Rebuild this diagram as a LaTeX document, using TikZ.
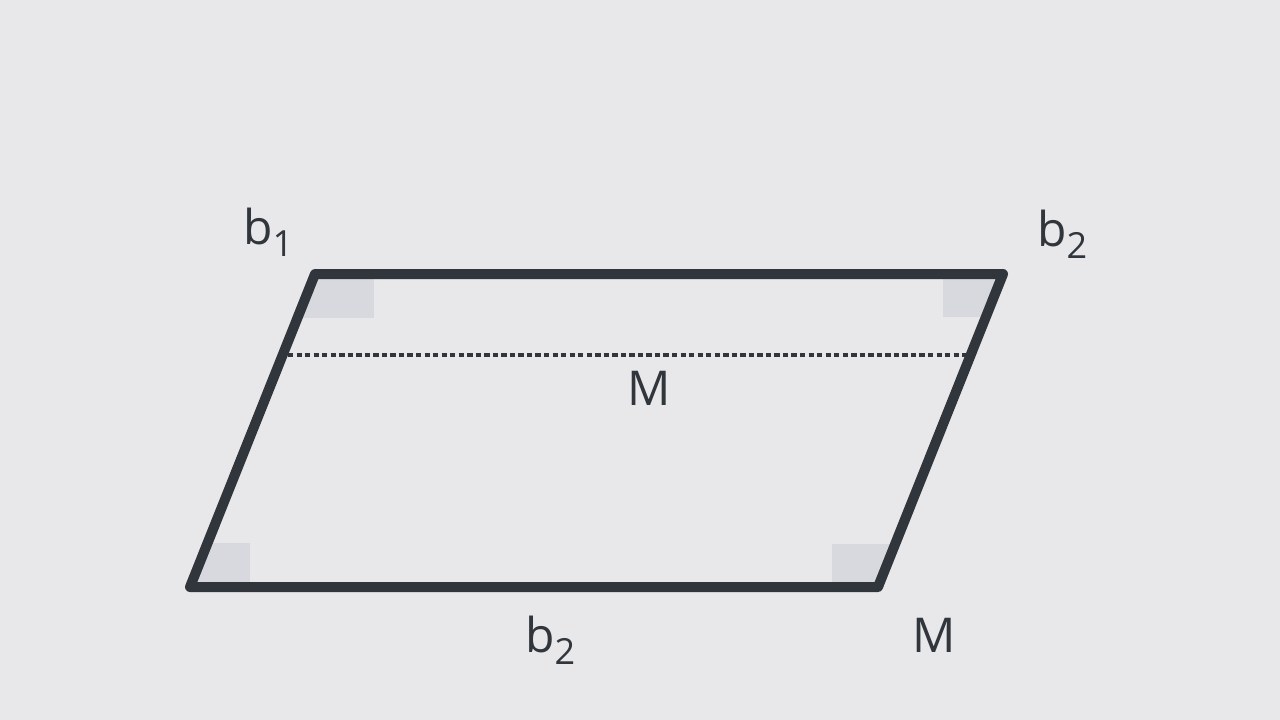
\documentclass[tikz,border=0pt]{standalone}
\usepackage{fontspec}
\setmainfont{Open Sans}
\newcommand\subtxt[1]{\raisebox{-9pt}{\fontsize{27}{29}\selectfont #1}}
\definecolor{bgc}{HTML}{E8E8EA}
\definecolor{inkc}{HTML}{31363C}
\definecolor{shadec}{HTML}{D7D9DE}
\begin{document}
\begin{tikzpicture}[x=0.75pt,y=-0.75pt,
  lbl/.style={anchor=base west,inner sep=0pt,text=inkc,font=\fontsize{36}{40}\selectfont},
  edge/.style={draw=inkc,line width=7.5pt,line join=round},
  midline/.style={draw=inkc,line width=2.4pt,dash pattern=on 4pt off 2.4pt}]
\useasboundingbox (0,0) rectangle (1280,720);
\fill[bgc] (0,0) rectangle (1280,720);
\coordinate (tl) at (315,274);
\coordinate (tr) at (1003,274);
\coordinate (br) at (878,587);
\coordinate (bl) at (190,587);
\begin{scope}
\clip (tl) -- (tr) -- (br) -- (bl) -- cycle;
\fill[shadec] (300,270) rectangle (374,318);
\fill[shadec] (943,270) rectangle (1010,317);
\fill[shadec] (180,543) rectangle (250,590);
\fill[shadec] (832,544) rectangle (890,590);
\end{scope}
\draw[edge] (tl) -- (tr) -- (br) -- (bl) -- cycle;
\coordinate (ml) at (288,355);
\coordinate (mr) at (966,355);
\draw[midline] (ml) -- (mr);
\node[lbl] (lb1) at (243,244) {b\subtxt{1}};
\node[lbl] (lb2t) at (1037,247) {b\subtxt{2}};
\node[lbl] (lb2b) at (525,652) {b\subtxt{2}};
\node[lbl] (lmm) at (627,405) {M};
\node[lbl] (lmb) at (912,652) {M};
\end{tikzpicture}
\end{document}
